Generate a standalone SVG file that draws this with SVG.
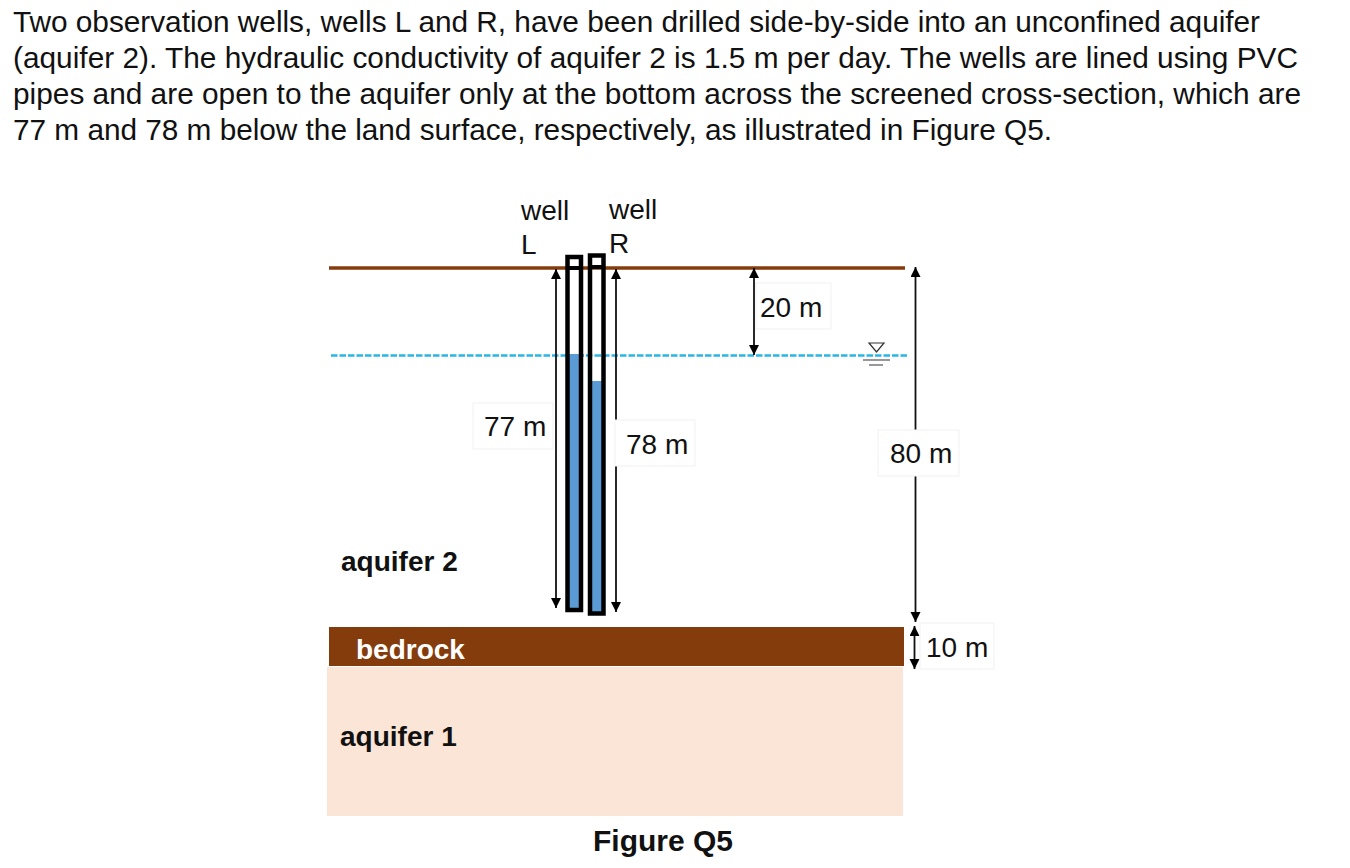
<svg xmlns="http://www.w3.org/2000/svg" width="1350" height="868" viewBox="0 0 1350 868">
<style>
text{font-family:"Liberation Sans",Arial,sans-serif;fill:#111}
.p{font-size:29.8px}
.l{font-size:28px}
.b{font-size:28px;font-weight:bold}
.d{stroke:#111;stroke-width:1.8;fill:none}
.box{fill:#fff;stroke:#f1f1f1;stroke-width:1}
.well{fill:none;stroke:#000;stroke-width:4.5}
.water{fill:#5b9bd5}
</style>
<defs>
<marker id="a" markerUnits="userSpaceOnUse" markerWidth="11" markerHeight="11" refX="10" refY="5" orient="auto-start-reverse"><path d="M0 0L10 5L0 10Z" fill="#000"/></marker>
</defs>
<rect width="1350" height="868" fill="#fff"/>
<g id="paragraph">
<text class="p" x="13" y="31.500" textLength="1247" lengthAdjust="spacing">Two observation wells, wells L and R, have been drilled side-by-side into an unconfined aquifer</text>
<text class="p" x="13" y="67.500" textLength="1285" lengthAdjust="spacing">(aquifer 2). The hydraulic conductivity of aquifer 2 is 1.5 m per day. The wells are lined using PVC</text>
<text class="p" x="13" y="103.500" textLength="1288" lengthAdjust="spacing">pipes and are open to the aquifer only at the bottom across the screened cross-section, which are</text>
<text class="p" x="13" y="139.500" textLength="1039" lengthAdjust="spacing">77 m and 78 m below the land surface, respectively, as illustrated in Figure Q5.</text>
</g>
<g id="aquifer1"><rect x="327" y="667" width="576" height="149" fill="#fbe5d6"/><text class="b" x="340" y="746">aquifer 1</text></g>
<g id="bedrock"><rect x="329" y="627" width="575" height="39" fill="#843c0c"/><text class="b" x="356" y="659" style="fill:#fff">bedrock</text></g>
<g id="aquifer2"><text class="b" x="341" y="571">aquifer 2</text></g>
<g id="land-surface"><line x1="329" y1="268" x2="905" y2="268" stroke="#843c0c" stroke-width="3.500"/></g>
<g id="water-table">
<line x1="331" y1="355.500" x2="907" y2="355.500" stroke="#29b5e8" stroke-width="2.500" stroke-dasharray="6.500 2"/>
<path d="M869 343H884L876.500 352Z" fill="none" stroke="#333" stroke-width="1.200"/>
<path d="M863 360H890M869 365H883" stroke="#333" stroke-width="1.200" fill="none"/>
</g>
<g id="connectors">
<line class="d" x1="556" y1="269" x2="556" y2="608" marker-start="url(#a)" marker-end="url(#a)"/>
<line class="d" x1="616" y1="269" x2="616" y2="612" marker-start="url(#a)" marker-end="url(#a)"/>
<line class="d" x1="754" y1="268" x2="754" y2="355" marker-start="url(#a)" marker-end="url(#a)"/>
<line class="d" x1="915.500" y1="267" x2="915.500" y2="622" marker-start="url(#a)" marker-end="url(#a)"/>
<line class="d" x1="914.500" y1="626" x2="914.500" y2="669" marker-start="url(#a)" marker-end="url(#a)"/>
</g>
<g id="well-L">
<rect class="water" x="568" y="354" width="13" height="255"/>
<rect class="well" x="567.500" y="257" width="13.500" height="353"/>
<line x1="567" y1="268" x2="581" y2="268" stroke="#000" stroke-width="4"/>
<text class="l" x="521" y="220">well</text><text class="l" x="521" y="254">L</text>
</g>
<g id="well-R">
<rect class="water" x="591" y="381" width="13" height="231"/>
<rect class="well" x="590" y="255.500" width="13.500" height="358"/>
<line x1="590" y1="267" x2="604" y2="267" stroke="#000" stroke-width="4"/>
<text class="l" x="609" y="219">well</text><text class="l" x="609" y="253">R</text>
</g>
<g id="label-77"><rect class="box" x="473" y="403" width="80" height="46"/><text class="l" x="484" y="436">77 m</text></g>
<g id="label-78"><rect class="box" x="615" y="420" width="80" height="46"/><text class="l" x="626" y="454">78 m</text></g>
<g id="label-20"><rect class="box" x="756" y="283" width="75" height="46"/><text class="l" x="760" y="317">20 m</text></g>
<g id="label-80"><rect class="box" x="878" y="430" width="81" height="46"/><text class="l" x="890" y="463">80 m</text></g>
<g id="label-10"><rect class="box" x="920" y="623" width="74" height="46"/><text class="l" x="926" y="657">10 m</text></g>
<g id="caption"><text x="593" y="851" style="font-size:30px;font-weight:bold">Figure Q5</text></g>
</svg>
